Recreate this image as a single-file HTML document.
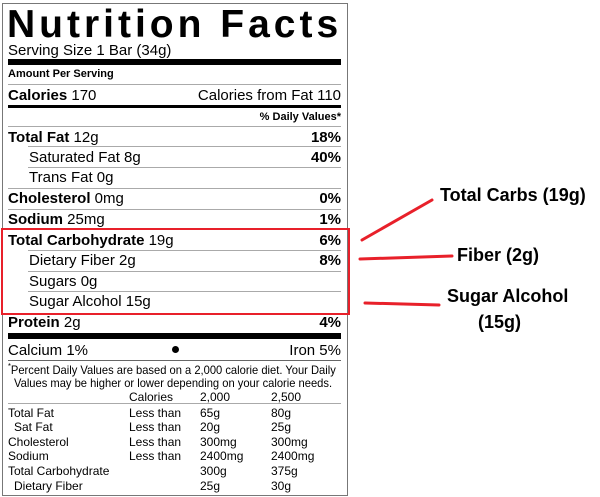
<!DOCTYPE html>
<html><head><meta charset="utf-8"><style>
body{margin:0;width:600px;height:497px;background:#fff;position:relative;overflow:hidden;font-family:"Liberation Sans",Arial,sans-serif;color:#000}
.t{position:absolute;white-space:nowrap;line-height:1;}
.r{position:absolute;right:259px;white-space:nowrap;line-height:1;font-weight:bold;}
.hl{position:absolute;background:#aaa;height:1px;}
.bk{position:absolute;background:#000;left:8px;width:333px;}
.f{font-size:15px}
.s{font-size:12px}
.a{position:absolute;font-weight:bold;font-size:18px;white-space:nowrap;line-height:1}
</style></head><body>
<div style="position:absolute;left:2px;top:3px;width:344px;height:491px;border:1px solid #777"></div>
<div class="t" style="left:7px;top:5px;font-size:39px;font-weight:bold;letter-spacing:4px;">Nutrition Facts</div>
<div class="t f" style="left:8px;top:43px;">Serving Size 1 Bar (34g)</div>
<div class="bk" style="top:59px;height:6px"></div>
<div class="t" style="left:8px;top:69px;font-size:11px;font-weight:bold">Amount Per Serving</div>
<div class="hl" style="left:8px;width:333px;top:84px"></div>
<div class="t f" style="left:8px;top:88px;"><b>Calories</b> 170</div>
<div class="t f" style="right:259px;top:88px;">Calories from Fat 110</div>
<div class="bk" style="top:105px;height:3px"></div>
<div class="r" style="top:112px;font-size:11px">% Daily Values*</div>
<div class="hl" style="left:8px;width:333px;top:126px"></div>
<div class="t f" style="left:8px;top:130px;"><b>Total Fat</b> 12g</div><div class="r f" style="top:130px">18%</div>
<div class="hl" style="left:28px;width:313px;top:146px"></div>
<div class="t f" style="left:29px;top:150px;">Saturated Fat 8g</div><div class="r f" style="top:150px">40%</div>
<div class="hl" style="left:28px;width:313px;top:167px"></div>
<div class="t f" style="left:29px;top:170px;">Trans Fat 0g</div>
<div class="hl" style="left:8px;width:333px;top:188px"></div>
<div class="t f" style="left:8px;top:191px;"><b>Cholesterol</b> 0mg</div><div class="r f" style="top:191px">0%</div>
<div class="hl" style="left:8px;width:333px;top:209px"></div>
<div class="t f" style="left:8px;top:212px;"><b>Sodium</b> 25mg</div><div class="r f" style="top:212px">1%</div>
<div class="hl" style="left:8px;width:333px;top:229px"></div>
<div class="t f" style="left:8px;top:233px;"><b>Total Carbohydrate</b> 19g</div><div class="r f" style="top:233px">6%</div>
<div class="hl" style="left:28px;width:313px;top:250px"></div>
<div class="t f" style="left:29px;top:253px;">Dietary Fiber 2g</div><div class="r f" style="top:253px">8%</div>
<div class="hl" style="left:28px;width:313px;top:271px"></div>
<div class="t f" style="left:29px;top:274px;">Sugars 0g</div>
<div class="hl" style="left:28px;width:313px;top:291px"></div>
<div class="t f" style="left:29px;top:294px;">Sugar Alcohol 15g</div>
<div class="t f" style="left:8px;top:315px;"><b>Protein</b> 2g</div><div class="r f" style="top:315px">4%</div>
<div class="bk" style="top:333px;height:6px"></div>
<div class="t f" style="left:8px;top:343px;">Calcium 1%</div>
<div style="position:absolute;left:172px;top:346px;width:7px;height:7px;border-radius:50%;background:#000"></div>
<div class="t f" style="right:259px;top:343px;">Iron 5%</div>
<div class="hl" style="left:8px;width:333px;top:360px;background:#666"></div>
<div class="t s" style="left:8px;top:363px;transform:scaleX(0.93);transform-origin:left top"><sup style="font-size:8px">*</sup>Percent Daily Values are based on a 2,000 calorie diet. Your Daily</div>
<div class="t s" style="left:14px;top:377px;transform:scaleX(0.93);transform-origin:left top">Values may be higher or lower depending on your calorie needs.</div>
<div class="t s" style="left:129px;top:391px">Calories</div><div class="t s" style="left:200px;top:391px">2,000</div><div class="t s" style="left:271px;top:391px">2,500</div>
<div class="hl" style="left:8px;width:333px;top:403px"></div>
<div class="t s" style="left:8px;top:407px">Total Fat</div><div class="t s" style="left:129px;top:407px">Less than</div><div class="t s" style="left:200px;top:407px">65g</div><div class="t s" style="left:271px;top:407px">80g</div>
<div class="t s" style="left:14px;top:421px">Sat Fat</div><div class="t s" style="left:129px;top:421px">Less than</div><div class="t s" style="left:200px;top:421px">20g</div><div class="t s" style="left:271px;top:421px">25g</div>
<div class="t s" style="left:8px;top:436px">Cholesterol</div><div class="t s" style="left:129px;top:436px">Less than</div><div class="t s" style="left:200px;top:436px">300mg</div><div class="t s" style="left:271px;top:436px">300mg</div>
<div class="t s" style="left:8px;top:450px">Sodium</div><div class="t s" style="left:129px;top:450px">Less than</div><div class="t s" style="left:200px;top:450px">2400mg</div><div class="t s" style="left:271px;top:450px">2400mg</div>
<div class="t s" style="left:8px;top:465px">Total Carbohydrate</div><div class="t s" style="left:200px;top:465px">300g</div><div class="t s" style="left:271px;top:465px">375g</div>
<div class="t s" style="left:14px;top:480px">Dietary Fiber</div><div class="t s" style="left:200px;top:480px">25g</div><div class="t s" style="left:271px;top:480px">30g</div>
<div style="position:absolute;left:1px;top:228px;width:345px;height:83px;border:2px solid #e8202a"></div>
<svg style="position:absolute;left:0;top:0" width="600" height="497">
<g stroke="#e8202a" stroke-width="3" stroke-linecap="round">
<line x1="362" y1="240" x2="432" y2="200"/>
<line x1="360" y1="259" x2="452" y2="256"/>
<line x1="365" y1="303" x2="439" y2="305"/>
</g></svg>
<div class="a" style="left:440px;top:186px">Total Carbs (19g)</div>
<div class="a" style="left:457px;top:246px">Fiber (2g)</div>
<div class="a" style="left:447px;top:287px">Sugar Alcohol</div>
<div class="a" style="left:478px;top:313px">(15g)</div>
</body></html>
